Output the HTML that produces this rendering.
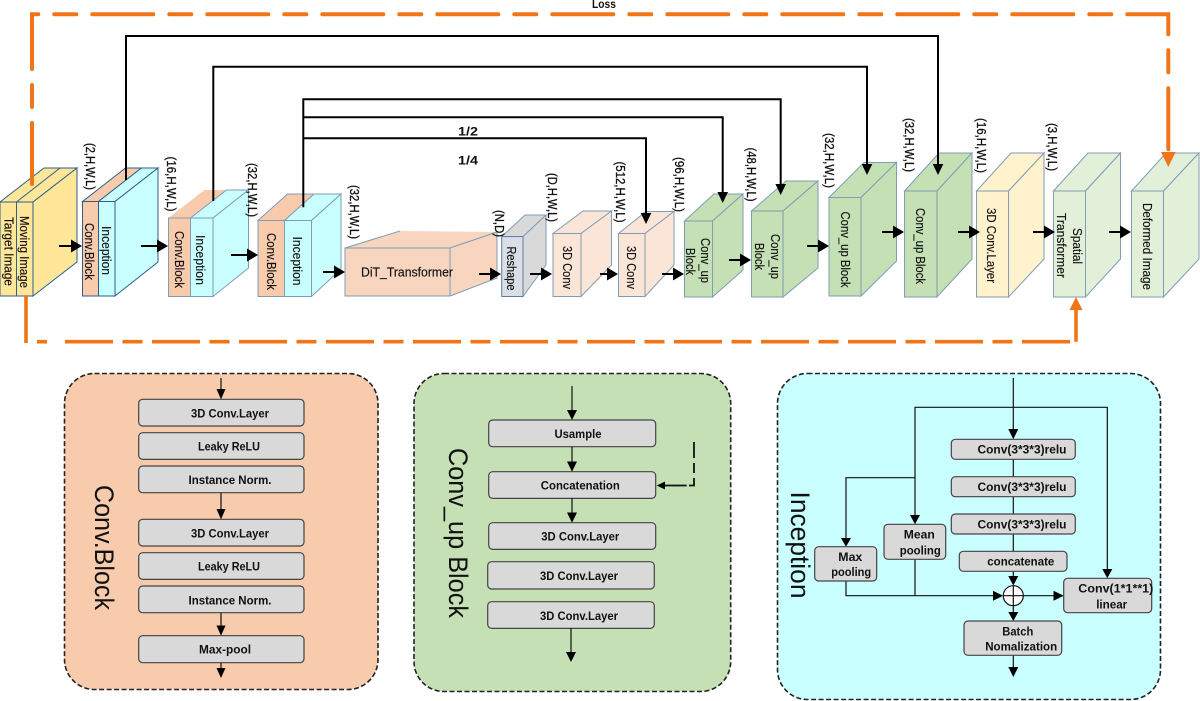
<!DOCTYPE html>
<html><head><meta charset="utf-8"><title>Diagram</title>
<style>
html,body{margin:0;padding:0;background:#fff;width:1200px;height:701px;overflow:hidden}
svg{display:block}
text{font-family:"Liberation Sans",sans-serif;fill:#111}
.c{font-size:12.5px;text-anchor:middle;stroke:#111;stroke-width:.15px}
.lb{font-size:12.5px;text-anchor:middle;stroke:#111;stroke-width:.3px}
.b{font-size:12px;font-weight:bold;text-anchor:middle}
.big{font-size:27px;text-anchor:middle}
.bx{fill:#D9D9D9;stroke:#444;stroke-width:1.2}
.pn{stroke:#222;stroke-width:1.6;stroke-dasharray:5 2.5}
.sk{fill:none;stroke:#000;stroke-width:2}
.th{fill:none;stroke:#111;stroke-width:1.2}
.st{stroke:#000;stroke-width:2}
.d{stroke:#2E5F8A;stroke-width:1}
.l{stroke:#7F9DB5;stroke-width:1}
</style></head><body>
<svg width="1200" height="701" viewBox="0 0 1200 701" xmlns="http://www.w3.org/2000/svg">

<!-- Cuboid: images -->
<g class="d" fill="#FFE699">
<polygon points="0,202 44,168 77,168 33,202"/><line x1="16.5" y1="202" x2="60" y2="168"/>
<polygon points="33,202 77,168 77,262 33,296"/>
<rect x="0" y="202" width="16.5" height="94"/><rect x="16.5" y="202" width="16.5" height="94"/>
</g>
<!-- Conv+Inception 1 -->
<g class="d">
<polygon fill="#F8CBAD" points="82.5,201.5 125.5,168 141.5,168 98.5,201.5"/>
<polygon fill="#C9FFFF" points="98.5,201.5 141.5,168 158,168 115,201.5"/>
<polygon fill="#C9FFFF" points="115,201.5 158,168 158,262 115,296"/>
<rect fill="#F8CBAD" x="82.5" y="201.5" width="16" height="94.5"/>
<rect fill="#C9FFFF" x="98.5" y="201.5" width="16.5" height="94.5"/>
</g>
<!-- Conv+Inception 2 -->
<g stroke="#7F9DB5">
<polygon fill="#F8CBAD" stroke="none" points="168.5,218 204.5,190 226.5,190 190.5,218"/>
<polygon fill="#C9FFFF" points="190.5,218 226.5,190 248.5,190 213,218"/>
<polygon fill="#C9FFFF" points="213,218 248.5,190 248.5,268 213,296.5"/>
<rect fill="#F8CBAD" x="168.5" y="218" width="22" height="78.5"/>
<rect fill="#C9FFFF" x="190.5" y="218" width="22.5" height="78.5"/>
</g>
<!-- Conv+Inception 3 -->
<g stroke="#7F9DB5">
<polygon fill="#F8CBAD" points="258,220.5 287.5,194 314,194 284.5,220.5"/>
<polygon fill="#C9FFFF" points="284.5,220.5 314,194 341,194 311.5,220.5"/>
<polygon fill="#C9FFFF" points="311.5,220.5 341,194 341,269 311.5,296.5"/>
<rect fill="#F8CBAD" x="258" y="220.5" width="26.5" height="76"/>
<rect fill="#C9FFFF" x="284.5" y="220.5" width="27" height="76"/>
</g>
<!-- DiT -->
<polygon fill="#F8D5BE" points="345,248 400,231 497,232 450,248"/>
<polygon fill="#F8D5BE" points="450,248 497,232 497,278 450,296"/>
<path d="M345,248L400,231M450,248L497,232V278L450,296" fill="none" stroke="#7F9DB5"/>
<rect x="345" y="248" width="105" height="48" fill="#F8D5BE" stroke="#7F9DB5"/>
<!-- Reshape -->
<g class="l" fill="#D9D9D9">
<polygon points="501.7,236.6 525,215 546,215 523,236.6"/>
<polygon points="523,236.6 546,215 546,265 523,296.5"/>
</g>
<rect x="501.7" y="236.6" width="21.3" height="59.9" fill="#D9DFE5" stroke="#5F7F9F"/>
<!-- 3D conv 1,2 -->
<g class="l" fill="#FBE5D6">
<polygon points="553,233.5 583,211 611.5,211 581,233.5"/>
<polygon points="581,233.5 611.5,211 611.5,265 581,296.5"/>
<rect x="553" y="233.5" width="28" height="63"/>
<polygon points="618.5,233.5 646,211.5 674,211.5 645,233.5"/>
<polygon points="645,233.5 674,211.5 674,265 645,296.5"/>
<rect x="618.5" y="233.5" width="26.5" height="63"/>
</g>
<!-- Green cuboids -->
<g class="l" fill="#C5E0B4">
<polygon points="684.5,221 714,194 743,194 712.5,221"/>
<polygon points="712.5,221 743,194 743,270 712.5,297"/>
<rect x="684.5" y="221" width="28" height="76"/>
<polygon points="751.5,211 786,181 818,181 783,211"/>
<polygon points="783,211 818,181 818,268 783,297"/>
<rect x="751.5" y="211" width="31.5" height="86"/>
<polygon points="829,197.5 864,162.5 896.5,162.5 861,197.5"/>
<polygon points="861,197.5 896.5,162.5 896.5,261 861,296"/>
<rect x="829" y="197.5" width="32" height="98.5"/>
<polygon points="904.5,191 939,153 972,153 937,191"/>
<polygon points="937,191 972,153 972,259 937,297"/>
<rect x="904.5" y="191" width="32.5" height="106"/>
</g>
<g class="l" fill="#FFF2CC">
<polygon points="976.5,191 1011,153 1044,153 1008.5,191"/>
<polygon points="1008.5,191 1044,153 1044,259 1008.5,297"/>
<rect x="976.5" y="191" width="32" height="106"/>
</g>
<g class="l" fill="#E2F0D9">
<polygon points="1053.5,191 1088,153 1120.5,153 1085.5,191"/>
<polygon points="1085.5,191 1120.5,153 1120.5,259 1085.5,297"/>
<rect x="1053.5" y="191" width="32" height="106"/>
<polygon points="1131.5,191 1166,153 1199,153 1163.5,191"/>
<polygon points="1163.5,191 1199,153 1199,259 1163.5,297"/>
<rect x="1131.5" y="191" width="32" height="106"/>
</g>

<!-- Skip connections -->
<path class="sk" d="M126,180V36H938V166"/>
<path class="sk" d="M213.3,201V66.7H867V166"/>
<path class="sk" d="M303.3,207.3V99.3H780.7V186"/>
<path class="sk" d="M303.3,117.3H722.7V194"/>
<path class="sk" d="M303.3,138.3H646V215"/>
<polygon points="932.7,164 943.3,164 938,175"/>
<polygon points="861.7,164 872.3,164 867,175"/>
<polygon points="775.4,184 786,184 780.7,195"/>
<polygon points="717.4,192 728,192 722.7,203"/>
<polygon points="640.7,213 651.3,213 646,224"/>

<!-- Loss orange -->
<path d="M32,184V14.3H1168.3V158" fill="none" stroke="#F07516" stroke-width="4" stroke-linecap="round" stroke-dasharray="61 16 22 16"/>
<polygon points="1161,152 1175.6,152 1168.3,167" fill="#F07516"/>
<g stroke="#F07516" stroke-width="3.6" fill="none">
<line x1="26" y1="296" x2="26" y2="343"/>
<line x1="37" y1="341.7" x2="47" y2="341.7"/>
<line x1="65" y1="341.7" x2="1022" y2="341.7" stroke-dasharray="48 9.5 20 9.5"/>
<path d="M1022,341.7H1070M1076,341.7V308"/>
</g>
<polygon points="1069.5,310 1082.5,310 1076,297" fill="#F07516"/>

<!-- Flow arrows -->
<g class="st">
<line x1="59" y1="246" x2="74" y2="246"/><line x1="141" y1="246" x2="160" y2="246"/><line x1="231" y1="255" x2="250" y2="255"/><line x1="323" y1="272" x2="337" y2="272"/><line x1="479" y1="274" x2="493" y2="274"/><line x1="530" y1="274" x2="544" y2="274"/><line x1="600" y1="274" x2="610" y2="274"/><line x1="662" y1="274" x2="676" y2="274"/><line x1="729" y1="260" x2="743" y2="260"/><line x1="807" y1="246" x2="821" y2="246"/><line x1="882" y1="232" x2="896" y2="232"/><line x1="958" y1="232" x2="972" y2="232"/><line x1="1033" y1="232" x2="1047" y2="232"/><line x1="1109" y1="232" x2="1123" y2="232"/>
</g>
<g fill="#000">
<polygon points="71,239.500 71,252.500 82,246"/><polygon points="157,239.500 157,252.500 168,246"/><polygon points="247,248.500 247,261.500 258,255"/><polygon points="334,265.500 334,278.500 345,272"/><polygon points="490,267.500 490,280.500 501,274"/><polygon points="541,267.500 541,280.500 552,274"/><polygon points="607,267.500 607,280.500 618,274"/><polygon points="673,267.500 673,280.500 684,274"/><polygon points="740,253.500 740,266.500 751,260"/><polygon points="818,239.500 818,252.500 829,246"/><polygon points="893,225.500 893,238.500 904,232"/><polygon points="969,225.500 969,238.500 980,232"/><polygon points="1044,225.500 1044,238.500 1055,232"/><polygon points="1120,225.500 1120,238.500 1131,232"/>
</g>

<!-- Top labels -->
<text class="b" x="604" y="8" textLength="24" lengthAdjust="spacingAndGlyphs">Loss</text>
<text class="b" x="468" y="135.500" textLength="20" lengthAdjust="spacingAndGlyphs">1/2</text>
<text class="b" x="468" y="164.500" textLength="20" lengthAdjust="spacingAndGlyphs">1/4</text>

<g class="c">
<text transform="translate(4.500,251.500) rotate(90)" textLength="69" lengthAdjust="spacingAndGlyphs">Target Image</text>
<text transform="translate(20,252) rotate(90)" textLength="72" lengthAdjust="spacingAndGlyphs">Moving Image</text>
<text transform="translate(85,251.500) rotate(90)" textLength="57" lengthAdjust="spacingAndGlyphs">Conv.Block</text>
<text transform="translate(102,250.500) rotate(90)" textLength="49" lengthAdjust="spacingAndGlyphs">Inception</text>
<text transform="translate(175,259.500) rotate(90)" textLength="57" lengthAdjust="spacingAndGlyphs">Conv.Block</text>
<text transform="translate(196,260) rotate(90)" textLength="50" lengthAdjust="spacingAndGlyphs">Inception</text>
<text transform="translate(267,261.500) rotate(90)" textLength="57" lengthAdjust="spacingAndGlyphs">Conv.Block</text>
<text transform="translate(293,261) rotate(90)" textLength="49" lengthAdjust="spacingAndGlyphs">Inception</text>
<text x="407" y="276.500" textLength="92" lengthAdjust="spacingAndGlyphs">DiT_Transformer</text>
<text transform="translate(507,268.500) rotate(90)" textLength="44" lengthAdjust="spacingAndGlyphs">Reshape</text>
<text transform="translate(563,267.500) rotate(90)" textLength="43" lengthAdjust="spacingAndGlyphs">3D Conv</text>
<text transform="translate(627,267.500) rotate(90)" textLength="43" lengthAdjust="spacingAndGlyphs">3D Conv</text>
<text transform="translate(701,260.500) rotate(90)" textLength="45" lengthAdjust="spacingAndGlyphs">Conv_up</text>
<text transform="translate(686,261.500) rotate(90)" textLength="27" lengthAdjust="spacingAndGlyphs">Block</text>
<text transform="translate(771,256.500) rotate(90)" textLength="45" lengthAdjust="spacingAndGlyphs">Conv_up</text>
<text transform="translate(755,256.500) rotate(90)" textLength="27" lengthAdjust="spacingAndGlyphs">Block</text>
<text transform="translate(841,249.500) rotate(90)" textLength="76" lengthAdjust="spacingAndGlyphs">Conv_up Block</text>
<text transform="translate(916,246) rotate(90)" textLength="76" lengthAdjust="spacingAndGlyphs">Conv_up Block</text>
<text transform="translate(987,245.500) rotate(90)" textLength="75" lengthAdjust="spacingAndGlyphs">3D Conv.Layer</text>
<text transform="translate(1073,246) rotate(90)" textLength="36" lengthAdjust="spacingAndGlyphs">Spatial</text>
<text transform="translate(1057,245.500) rotate(90)" textLength="65" lengthAdjust="spacingAndGlyphs">Transformer</text>
<text transform="translate(1143,246.500) rotate(90)" textLength="87" lengthAdjust="spacingAndGlyphs">Deformed Image</text>
</g>
<g class="lb">
<text transform="translate(86,166.500) rotate(90)" textLength="47" lengthAdjust="spacingAndGlyphs">(2,H,W,L)</text>
<text transform="translate(167,184) rotate(90)" textLength="55" lengthAdjust="spacingAndGlyphs">(16,H,W,L)</text>
<text transform="translate(248,190) rotate(90)" textLength="54" lengthAdjust="spacingAndGlyphs">(32,H,W,L)</text>
<text transform="translate(350,212) rotate(90)" textLength="54" lengthAdjust="spacingAndGlyphs">(32,H,W,L)</text>
<text transform="translate(495,223.500) rotate(90)" textLength="27" lengthAdjust="spacingAndGlyphs">(N,D)</text>
<text transform="translate(548,197.500) rotate(90)" textLength="49" lengthAdjust="spacingAndGlyphs">(D,H,W,L)</text>
<text transform="translate(616,192) rotate(90)" textLength="61" lengthAdjust="spacingAndGlyphs">(512,H,W,L)</text>
<text transform="translate(675,184.500) rotate(90)" textLength="55" lengthAdjust="spacingAndGlyphs">(96,H,W,L)</text>
<text transform="translate(747,174.500) rotate(90)" textLength="54" lengthAdjust="spacingAndGlyphs">(48,H,W,L)</text>
<text transform="translate(825,160.500) rotate(90)" textLength="55" lengthAdjust="spacingAndGlyphs">(32,H,W,L)</text>
<text transform="translate(905,145) rotate(90)" textLength="54" lengthAdjust="spacingAndGlyphs">(32,H,W,L)</text>
<text transform="translate(977,145.500) rotate(90)" textLength="55" lengthAdjust="spacingAndGlyphs">(16,H,W,L)</text>
<text transform="translate(1048,147) rotate(90)" textLength="48" lengthAdjust="spacingAndGlyphs">(3,H,W,L)</text>
</g>

<!-- Conv.Block panel -->
<rect class="pn" x="64.5" y="373.5" width="313.5" height="316" rx="30" fill="#F8CBAD"/>
<g class="bx">
<rect x="138.7" y="399.3" width="165.3" height="26.7" rx="4"/><rect x="138.7" y="432.7" width="165.3" height="26.7" rx="4"/><rect x="138.7" y="466" width="165.3" height="26.7" rx="4"/><rect x="138.7" y="519.3" width="165.3" height="26.7" rx="4"/><rect x="138.7" y="552.7" width="165.3" height="26.7" rx="4"/><rect x="138.7" y="586" width="165.3" height="26.7" rx="4"/><rect x="138.7" y="635.7" width="165.3" height="27" rx="4"/>
</g>
<g class="b">
<text x="230" y="417.500" textLength="78" lengthAdjust="spacingAndGlyphs">3D Conv.Layer</text>
<text x="229" y="450.500" textLength="62" lengthAdjust="spacingAndGlyphs">Leaky ReLU</text>
<text x="230" y="484" textLength="83" lengthAdjust="spacingAndGlyphs">Instance Norm.</text>
<text x="230" y="537.500" textLength="78" lengthAdjust="spacingAndGlyphs">3D Conv.Layer</text>
<text x="229" y="570.500" textLength="62" lengthAdjust="spacingAndGlyphs">Leaky ReLU</text>
<text x="230" y="604.500" textLength="83" lengthAdjust="spacingAndGlyphs">Instance Norm.</text>
<text x="225" y="653.500" textLength="52" lengthAdjust="spacingAndGlyphs">Max-pool</text>
</g>
<path class="th" d="M221,378V392M221,492.700V512M221,612.700V628M221,662.700V671"/>
<g fill="#000">
<polygon points="216.500,389 225.500,389 221,399.300"/><polygon points="216.500,509 225.500,509 221,519.300"/><polygon points="216.500,625.500 225.500,625.500 221,635.700"/><polygon points="216.500,668 225.500,668 221,678"/>
</g>
<text class="big" transform="translate(95,547.500) rotate(90)" textLength="125" lengthAdjust="spacingAndGlyphs">Conv.Block</text>

<!-- Conv_up panel -->
<rect class="pn" x="414" y="373.500" width="316.700" height="318" rx="30" fill="#C5E0B4"/>
<g class="bx">
<rect x="488.700" y="420" width="167" height="26.700" rx="4"/><rect x="488.700" y="471.700" width="167" height="26.700" rx="4"/><rect x="488.700" y="522.700" width="167" height="26.700" rx="4"/><rect x="487.700" y="561.700" width="166.600" height="27.300" rx="4"/><rect x="487.700" y="601.700" width="166.600" height="26.700" rx="4"/>
</g>
<g class="b">
<text x="578" y="438" textLength="47" lengthAdjust="spacingAndGlyphs">Usample</text>
<text x="580.300" y="489.500" textLength="79" lengthAdjust="spacingAndGlyphs">Concatenation</text>
<text x="580.300" y="540.500" textLength="78" lengthAdjust="spacingAndGlyphs">3D Conv.Layer</text>
<text x="579" y="580" textLength="78" lengthAdjust="spacingAndGlyphs">3D Conv.Layer</text>
<text x="579" y="620" textLength="78" lengthAdjust="spacingAndGlyphs">3D Conv.Layer</text>
</g>
<path class="th" d="M572,386V412M572,446.700V464M572,498.300V515M571,628V655"/>
<g fill="#000">
<polygon points="567,410 577,410 572,420"/><polygon points="567,461.500 577,461.500 572,471.700"/><polygon points="567,512.500 577,512.500 572,522.700"/><polygon points="566,652 576,652 571,662"/>
</g>
<path d="M694,442V458M694,463V473M694,478V485.500H689M686.700,485.500H662" fill="none" stroke="#111" stroke-width="1.800"/>
<polygon points="665,481.500 665,489.500 656.700,485.500" fill="#000"/>
<text class="big" transform="translate(449,533) rotate(90)" textLength="170" lengthAdjust="spacingAndGlyphs">Conv_up Block</text>

<!-- Inception panel -->
<rect class="pn" x="777.500" y="373.500" width="383" height="326" rx="30" fill="#C9FFFF"/>
<path class="th" d="M1013.300,378V431M1013.300,459V551M1013.300,571V577M915,517V407.300H1107.300V570M915,477.700H846V539M846,581V595.700H995M915,559V595.700M1023,595.700H1055M1013.300,605V613M1013.300,655V668"/>
<g fill="#000">
<polygon points="1008.300,429 1018.300,429 1013.300,439.300"/>
<polygon points="910,515 920,515 915,524.300"/>
<polygon points="841,538 851,538 846,546.700"/>
<polygon points="1102.300,569 1112.300,569 1107.300,578.300"/>
<polygon points="1008.300,576 1018.300,576 1013.300,585.500"/>
<polygon points="993,590.700 993,600.700 1003,595.700"/>
<polygon points="1053.500,590.700 1053.500,600.700 1063.700,595.700"/>
<polygon points="1008.300,612 1018.300,612 1013.300,621"/>
<polygon points="1008.300,667 1018.300,667 1013.300,677"/>
</g>
<g class="bx">
<rect x="951.300" y="439.300" width="124" height="20" rx="4"/><rect x="951.300" y="476.700" width="124" height="20" rx="4"/><rect x="951.300" y="514" width="124" height="20" rx="4"/><rect x="959.300" y="551.300" width="107.700" height="20" rx="4"/><rect x="884" y="524.300" width="61.700" height="35" rx="4"/><rect x="814.700" y="546.700" width="62" height="34.300" rx="4"/><rect x="1063.700" y="578.300" width="88" height="34.400" rx="4"/><rect x="964" y="621" width="97.700" height="34.300" rx="4"/>
</g>
<circle cx="1013.300" cy="595.700" r="10" fill="#fff" stroke="#111" stroke-width="1.200"/>
<path class="th" d="M1003.300,595.700H1023.300M1013.300,585.700V605.700"/>
<g class="b">
<text x="1022" y="453.700" textLength="89" lengthAdjust="spacingAndGlyphs">Conv(3*3*3)relu</text>
<text x="1022" y="491" textLength="89" lengthAdjust="spacingAndGlyphs">Conv(3*3*3)relu</text>
<text x="1022" y="528.300" textLength="89" lengthAdjust="spacingAndGlyphs">Conv(3*3*3)relu</text>
<text x="1020.800" y="565.500" textLength="67" lengthAdjust="spacingAndGlyphs">concatenate</text>
<text x="919.300" y="538.500" textLength="31" lengthAdjust="spacingAndGlyphs">Mean</text>
<text x="920.300" y="554.500" textLength="41" lengthAdjust="spacingAndGlyphs">pooling</text>
<text x="850.300" y="561" textLength="24" lengthAdjust="spacingAndGlyphs">Max</text>
<text x="851.200" y="576" textLength="40" lengthAdjust="spacingAndGlyphs">pooling</text>
<text x="1115.800" y="592.500" textLength="75" lengthAdjust="spacingAndGlyphs">Conv(1*1**1)</text>
<text x="1111.700" y="608.500" textLength="31" lengthAdjust="spacingAndGlyphs">linear</text>
<text x="1017.800" y="635.500" textLength="31" lengthAdjust="spacingAndGlyphs">Batch</text>
<text x="1021.200" y="650.500" textLength="72" lengthAdjust="spacingAndGlyphs">Nomalization</text>
</g>
<text class="big" transform="translate(791,545) rotate(90)" textLength="107" lengthAdjust="spacingAndGlyphs">Inception</text>
</svg>
</body></html>
